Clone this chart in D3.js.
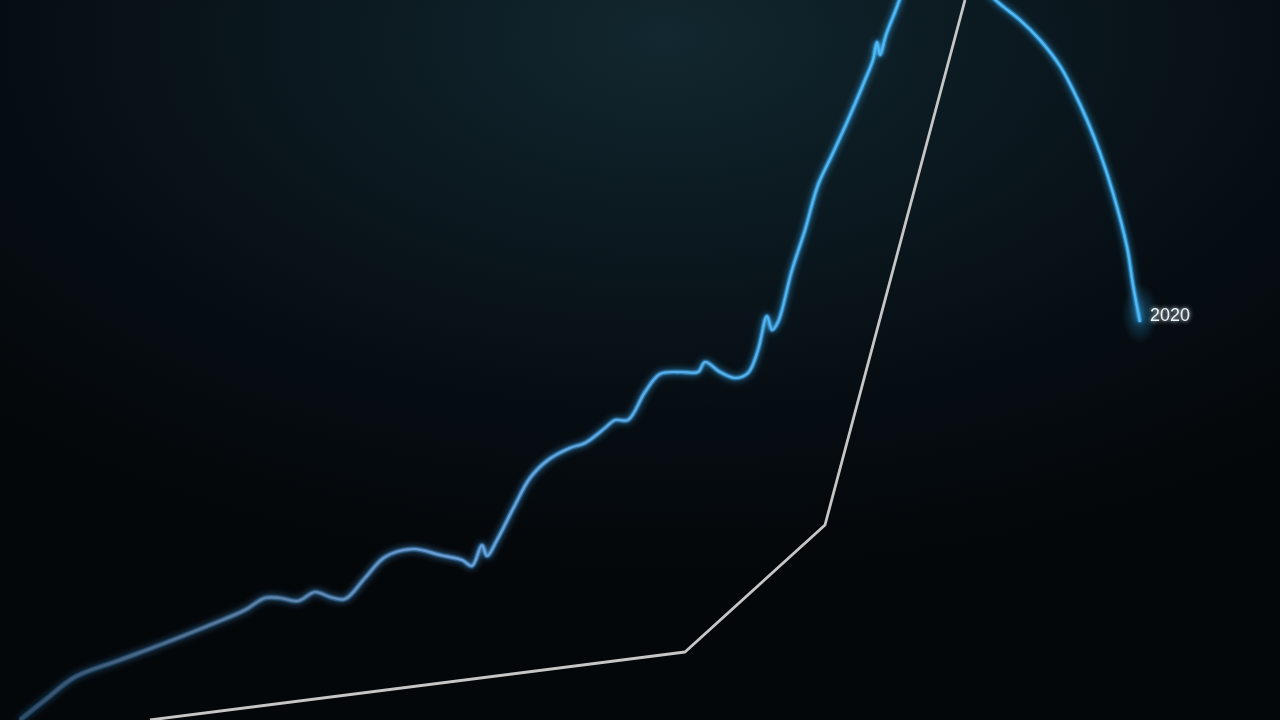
<!DOCTYPE html>
<html>
<head>
<meta charset="utf-8">
<script src="https://cdn.jsdelivr.net/npm/d3@7"></script>
<style>
html,body{margin:0;padding:0;background:#05090d;overflow:hidden;}
svg{display:block;}
</style>
</head>
<body>
<svg id="chart" width="1280" height="720"></svg>
<script>
// Blue series: x position (t) and value (v)
const blueT = [2.0,4.5,7.5,12,16.5,21,24.5,26.5,28,29.8,31.5,33,34.5,36.5,38.5,41.3,44,46.2,47.2,48.2,48.7,49.7,51.5,53,54.8,57,58.5,60.5,61.5,62.8,64.5,66,68,69.8,70.5,72,73.5,74.8,75.8,76.7,77.2,77.8,79.2,80.5,81.8,83.2,84.8,86.5,87.3,87.7,88.0,88.6,89.5,90.5,92,94,96,98,100,102,104,106,107.3,108.7,110,111.3,112.7,113.3,114.0];
const blueV = [0,2.0,4.3,6.0,7.7,9.5,11.0,12.2,12.2,11.9,12.8,12.3,12.1,14.2,16.3,17.1,16.5,16.0,15.4,17.5,16.4,18.0,21.5,24.2,26.0,27.2,27.7,29.2,30.0,30.0,32.8,34.6,34.8,34.8,35.8,34.8,34.2,34.7,37.0,40.4,39.0,39.8,45.0,49.0,53.5,56.5,60.0,64.0,66.0,67.8,66.5,68.5,70.8,73.2,74.8,75.4,74.8,73.4,71.6,70.0,68.0,65.4,63.0,60.0,56.7,52.7,47.3,43.5,39.8];
// Gray series
const grayT = [15,68.5,82.5,96.5];
const grayV = [0,6.8,19.5,72];
const endLabel = "2020";

const W = 1280, H = 720;
const svg = d3.select("#chart");
const defs = svg.append("defs");

// background radial
const bg = defs.append("radialGradient").attr("id","bg")
  .attr("cx",0.52).attr("cy",0.05).attr("r",0.75).attr("fx",0.52).attr("fy",0.05);
bg.append("stop").attr("offset","0%").attr("stop-color","#12272f");
bg.append("stop").attr("offset","35%").attr("stop-color","#0b1920");
bg.append("stop").attr("offset","70%").attr("stop-color","#060d12");
bg.append("stop").attr("offset","100%").attr("stop-color","#04070a");
svg.append("rect").attr("width",W).attr("height",H).attr("fill","url(#bg)");

const x = d3.scaleLinear().domain([0,128]).range([0,W]);
const y = d3.scaleLinear().domain([0,72]).range([H,0]);

// line gradient along x
const lg = defs.append("linearGradient").attr("id","lg")
  .attr("gradientUnits","userSpaceOnUse")
  .attr("x1",x(0)).attr("y1",0).attr("x2",x(90)).attr("y2",0);
lg.append("stop").attr("offset","0%").attr("stop-color","#33485e");
lg.append("stop").attr("offset","25%").attr("stop-color","#5c7a9c");
lg.append("stop").attr("offset","50%").attr("stop-color","#6a9fd6");
lg.append("stop").attr("offset","75%").attr("stop-color","#55aeea");
lg.append("stop").attr("offset","100%").attr("stop-color","#4fbaf5");

const glow = defs.append("filter").attr("id","glow")
  .attr("x","-20%").attr("y","-20%").attr("width","140%").attr("height","140%");
glow.append("feGaussianBlur").attr("in","SourceGraphic").attr("stdDeviation",3.5).attr("result","b1");
glow.append("feGaussianBlur").attr("in","SourceGraphic").attr("stdDeviation",1.2).attr("result","b2");
const m = glow.append("feMerge");
m.append("feMergeNode").attr("in","b1");
m.append("feMergeNode").attr("in","b2");
m.append("feMergeNode").attr("in","SourceGraphic");

const tglow = defs.append("filter").attr("id","tglow")
  .attr("x","-50%").attr("y","-50%").attr("width","200%").attr("height","200%");
tglow.append("feGaussianBlur").attr("in","SourceGraphic").attr("stdDeviation",2).attr("result","b");
const tm = tglow.append("feMerge");
tm.append("feMergeNode").attr("in","b");
tm.append("feMergeNode").attr("in","SourceGraphic");

const halo = defs.append("radialGradient").attr("id","halo");
halo.append("stop").attr("offset","0%").attr("stop-color","#2aa0e0").attr("stop-opacity",0.4);
halo.append("stop").attr("offset","100%").attr("stop-color","#2aa0e0").attr("stop-opacity",0);

const blue = blueT.map((t,i)=>[t,blueV[i]]);
const gray = grayT.map((t,i)=>[t,grayV[i]]);

// gray line
svg.append("path")
  .attr("d", d3.line().x(d=>x(d[0])).y(d=>y(d[1]))(gray))
  .attr("fill","none").attr("stroke","#c6c6c6").attr("stroke-width",2.8)
  .attr("stroke-linejoin","round");

// end halo
const last = blue[blue.length-1];
svg.append("ellipse").attr("cx",x(last[0])).attr("cy",y(last[1])-8)
  .attr("rx",18).attr("ry",30).attr("fill","url(#halo)");

// blue glow line
const bl = d3.line().x(d=>x(d[0])).y(d=>y(d[1])).curve(d3.curveCatmullRom.alpha(0.5));
svg.append("path").attr("d", bl(blue))
  .attr("fill","none").attr("stroke","#1f7fc8").attr("stroke-width",5).attr("stroke-opacity",0.25)
  .attr("filter","url(#glow)");
svg.append("path").attr("d", bl(blue))
  .attr("fill","none").attr("stroke","url(#lg)").attr("stroke-width",2.2)
  .attr("stroke-linejoin","round").attr("filter","url(#glow)");

// label
svg.append("text").attr("x", x(last[0])+10).attr("y", y(last[1])-1)
  .attr("font-family","Liberation Sans, Arial, sans-serif").attr("font-size",18)
  .attr("fill","#e9f3fa").attr("filter","url(#tglow)")
  .attr("letter-spacing",0)
  .text(endLabel);
</script>
</body>
</html>
